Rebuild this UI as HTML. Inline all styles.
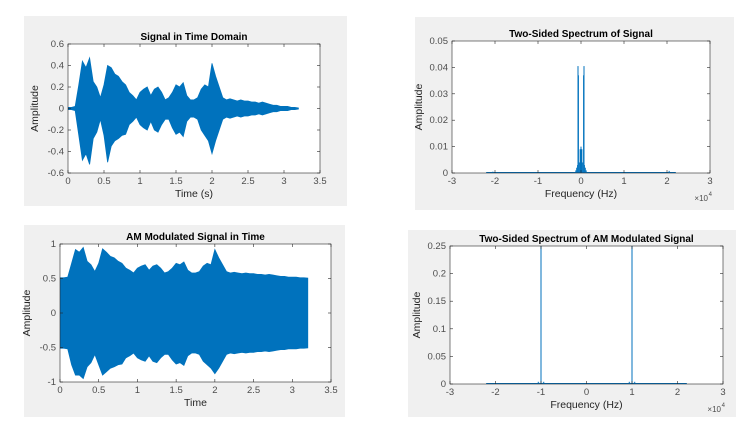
<!DOCTYPE html>
<html><head><meta charset="utf-8"><style>
body{margin:0;background:#fff;width:750px;height:429px;overflow:hidden;font-family:"Liberation Sans",sans-serif;}
svg{position:absolute;left:0;top:0}
</style></head><body>
<svg id="s" width="750" height="429"></svg>
<script>
// ---- data ----
const sigT=[0,0.05,0.1,0.15,0.2,0.25,0.3,0.35,0.4,0.45,0.5,0.55,0.6,0.65,0.7,0.75,0.8,0.85,0.9,0.95,1.0,1.05,1.1,1.15,1.2,1.25,1.3,1.35,1.4,1.45,1.5,1.55,1.6,1.65,1.7,1.75,1.8,1.85,1.9,1.95,2.0,2.05,2.1,2.15,2.2,2.25,2.3,2.35,2.4,2.45,2.5,2.55,2.6,2.65,2.7,2.75,2.8,2.85,2.9,2.95,3.0,3.05,3.1,3.15,3.2];
const sigUpper=[0.01,0.01,0.02,0.22,0.44,0.38,0.47,0.25,0.2,0.1,0.22,0.4,0.38,0.32,0.3,0.25,0.22,0.15,0.12,0.08,0.15,0.18,0.2,0.12,0.18,0.2,0.15,0.08,0.1,0.15,0.22,0.2,0.24,0.12,0.08,0.08,0.1,0.18,0.22,0.2,0.42,0.3,0.2,0.1,0.08,0.09,0.08,0.07,0.08,0.07,0.07,0.06,0.06,0.05,0.06,0.05,0.04,0.03,0.03,0.02,0.02,0.02,0.01,0.01,0.005];
const sigLower=[-0.01,-0.01,-0.02,-0.25,-0.48,-0.42,-0.52,-0.28,-0.22,-0.1,-0.25,-0.5,-0.35,-0.3,-0.28,-0.25,-0.24,-0.15,-0.12,-0.08,-0.15,-0.18,-0.2,-0.12,-0.2,-0.22,-0.15,-0.1,-0.1,-0.18,-0.24,-0.22,-0.26,-0.12,-0.08,-0.08,-0.1,-0.2,-0.25,-0.3,-0.42,-0.3,-0.2,-0.1,-0.08,-0.09,-0.08,-0.07,-0.08,-0.07,-0.07,-0.06,-0.06,-0.05,-0.06,-0.05,-0.04,-0.03,-0.03,-0.02,-0.02,-0.02,-0.01,-0.01,-0.005];
const amUpper=[0.51,0.51,0.52,0.72,0.92,0.88,0.95,0.75,0.7,0.6,0.72,0.93,0.88,0.82,0.8,0.75,0.72,0.65,0.62,0.58,0.65,0.68,0.7,0.62,0.68,0.7,0.65,0.58,0.6,0.65,0.72,0.7,0.74,0.62,0.58,0.58,0.6,0.68,0.72,0.7,0.92,0.8,0.7,0.6,0.58,0.59,0.58,0.57,0.58,0.57,0.57,0.56,0.56,0.55,0.56,0.55,0.54,0.53,0.53,0.52,0.52,0.52,0.51,0.51,0.505];
const amLower=[-0.51,-0.51,-0.52,-0.75,-0.9,-0.9,-0.95,-0.78,-0.72,-0.6,-0.75,-0.9,-0.85,-0.8,-0.78,-0.75,-0.74,-0.65,-0.62,-0.58,-0.65,-0.68,-0.7,-0.62,-0.7,-0.72,-0.65,-0.6,-0.6,-0.68,-0.74,-0.72,-0.76,-0.62,-0.58,-0.58,-0.6,-0.7,-0.75,-0.8,-0.88,-0.8,-0.7,-0.6,-0.58,-0.59,-0.58,-0.57,-0.58,-0.57,-0.57,-0.56,-0.56,-0.55,-0.56,-0.55,-0.54,-0.53,-0.53,-0.52,-0.52,-0.52,-0.51,-0.51,-0.505];
const specF=[-1200,-1000,-800,-700,-600,-400,-200,0,200,400,600,700,800,1000,1200,20500,-20500];
const specA=[0.001,0.002,0.003,0.0405,0.037,0.004,0.009,0.01,0.009,0.004,0.037,0.0405,0.003,0.002,0.001,0.0008,0.0005];
const amF=[-10600,-10400,-10000,-9600,-9400,9400,9600,10000,10400,10600,20500,-20500];
const amA=[0.004,0.002,0.3,0.002,0.004,0.004,0.002,0.3,0.002,0.004,0.0006,0.0004];
const tTicks=[0,0.5,1,1.5,2,2.5,3,3.5];
const fTicks=[-3,-2,-1,0,1,2,3];
// ---- drawing ----
const s=document.getElementById('s');const NS='http://www.w3.org/2000/svg';
function mk(t,a,p){const e=document.createElementNS(NS,t);for(const k in a)e.setAttribute(k,a[k]);(p||s).appendChild(e);return e;}
function txt(x,y,str,o){const e=mk('text',Object.assign({x:x,y:y,'font-size':9.5,fill:'#4d4d4d','text-anchor':'middle','font-family':'Liberation Sans, sans-serif'},o||{}));e.textContent=str;return e;}
function panel(name,g,ax,xmin,xmax,ymin,ymax,xt,yt,ylab,title,xlab,exp){
 const G=mk('g',{});
 mk('rect',{x:g[0],y:g[1],width:g[2]-g[0],height:g[3]-g[1],fill:'#f0f0f0'},G);
 const [x0,y0,x1,y1]=ax;
 mk('rect',{x:x0,y:y0,width:x1-x0,height:y1-y0,fill:'#fff'},G);
 const X=v=>x0+(v-xmin)/(xmax-xmin)*(x1-x0), Y=v=>y1-(v-ymin)/(ymax-ymin)*(y1-y0);
 const clip='c'+name;const cp=mk('clipPath',{id:clip},G);mk('rect',{x:x0,y:y0,width:x1-x0,height:y1-y0},cp);
 const D=mk('g',{'clip-path':'url(#'+clip+')'},G);
 G._X=X;G._Y=Y;G._D=D;
 mk('rect',{x:x0,y:y0,width:x1-x0,height:y1-y0,fill:'none',stroke:'#262626','stroke-width':0.6},G);
 xt.forEach(v=>{const x=X(v);mk('line',{x1:x,x2:x,y1:y1,y2:y1-3,stroke:'#262626','stroke-width':0.6},G);mk('line',{x1:x,x2:x,y1:y0,y2:y0+3,stroke:'#262626','stroke-width':0.6},G);txt(x,y1+11,String(v),{}).parentNode===G;});
 yt.forEach(v=>{const y=Y(v);mk('line',{x1:x0,x2:x0+3,y1:y,y2:y,stroke:'#262626','stroke-width':0.6},G);mk('line',{x1:x1,x2:x1-3,y1:y,y2:y,stroke:'#262626','stroke-width':0.6},G);txt(x0-4,y+3,String(v),{'text-anchor':'end'});});
 const tt=txt((x0+x1)/2,y0-4,title,{'font-weight':'bold','font-size':10,fill:'#000'});
 const xl=txt((x0+x1)/2,y1+24,xlab,{'font-size':10.5,fill:'#262626'});
 const yl=txt(0,0,ylab,{'font-size':10.5,fill:'#262626',transform:'translate('+(x0-30)+','+((y0+y1)/2)+') rotate(-90)'});
 if(exp){const e=txt(x1-2,y1+28,'\u00d710',{'font-size':8,'text-anchor':'end'});const p=txt(x1+2,y1+23,'4',{'font-size':6,'text-anchor':'end'});}
 return G;
}
function env(G,T,U,L){let d='';T.forEach((t,i)=>{d+=(i?'L':'M')+G._X(t)+','+G._Y(U[i]);});for(let i=T.length-1;i>=0;i--)d+='L'+G._X(T[i])+','+G._Y(L[i]);d+='Z';
 const p=mk('path',{d:d,fill:'#0072bd',stroke:'#0072bd','stroke-width':0.8},G._D);}
function spec(G,F,A){mk('line',{x1:G._X(-22050),x2:G._X(22050),y1:G._Y(0)-0.5,y2:G._Y(0)-0.5,stroke:'#0072bd','stroke-width':1},G._D);
 F.forEach((f,i)=>{const l=mk('line',{x1:G._X(f),x2:G._X(f),y1:G._Y(0),y2:G._Y(A[i]),stroke:'#0072bd','stroke-width':1},G._D);});}
const p1=panel('time-signal-plot',[24,16,347,206],[68,44,320,173],0,3.5,-0.6,0.6,tTicks,[-0.6,-0.4,-0.2,0,0.2,0.4,0.6],'Amplitude','Signal in Time Domain','Time (s)',false);
env(p1,sigT,sigUpper,sigLower);
const p2=panel('signal-spectrum-plot',[415,17,734,210],[452,41,710,173],-3,3,0,0.05,fTicks,[0,0.01,0.02,0.03,0.04,0.05],'Amplitude','Two-Sided Spectrum of Signal','Frequency (Hz)',true);
p2._X2=p2._X;p2._X=f=>p2._X2(f/10000);spec(p2,specF,specA);
const p3=panel('am-time-plot',[24,225,345,417],[60,244,331,382],0,3.5,-1,1,tTicks,[-1,-0.5,0,0.5,1],'Amplitude','AM Modulated Signal in Time','Time',false);
env(p3,sigT,amUpper,amLower);
const p4=panel('am-spectrum-plot',[408,230,736,417],[450,246,723,384],-3,3,0,0.25,fTicks,[0,0.05,0.1,0.15,0.2,0.25],'Amplitude','Two-Sided Spectrum of AM Modulated Signal','Frequency (Hz)',true);
p4._X2=p4._X;p4._X=f=>p4._X2(f/10000);spec(p4,amF,amA);
</script>
</body></html>
